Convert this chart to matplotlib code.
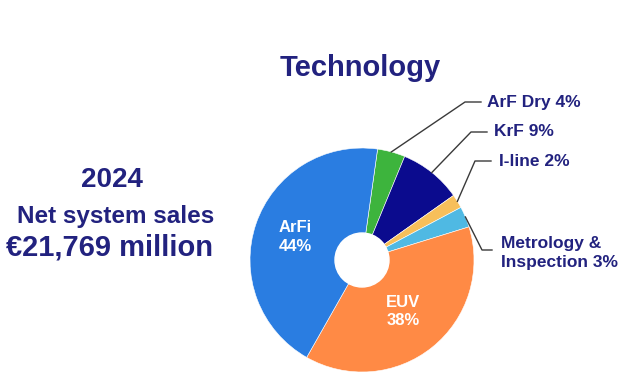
import numpy as np
import matplotlib
matplotlib.use("Agg")
import matplotlib.pyplot as plt
from matplotlib.patches import Circle

plt.rcParams['font.family'] = ['Liberation Sans', 'DejaVu Sans']

# data, clockwise from just right of 12 o'clock
segments = ['ArF Dry', 'KrF', 'I-line', 'Metrology &\nInspection', 'EUV', 'ArFi']
shares = [4, 9, 2, 3, 38, 44]
colors = ['#3db43d', '#0b0b8e', '#f7bf5a', '#4fb9e3', '#ff8a45', '#2a7de1']
inside = {'EUV', 'ArFi'}

year = '2024'
subtitle = 'Net system sales'
total = '€21,769 million'
title = 'Technology'

navy = '#22227f'
W, H = 625, 388

fig = plt.figure(figsize=(W / 100, H / 100), dpi=100)
ax = fig.add_axes([0, 0, 1, 1])

cx, cy, r = 362, H - 260, 112
start = 82  # degrees, matplotlib convention
wedges, _ = ax.pie(shares, colors=colors, startangle=start, counterclock=False,
                   center=(cx, cy), radius=r, frame=True,
                   wedgeprops=dict(linewidth=0.4, edgecolor='white'))
ax.add_patch(Circle((cx, cy), 27, color='white', zorder=5))

# label layout in pixel coords (y down): elbow x, line end x, text x, text y
layout = {
    'ArF Dry': (465, 481, 487, 102),
    'KrF': (471, 487, 494, 132),
    'I-line': (475, 491, 499, 161),
    'Metrology &\nInspection': (482, 492, 501, 253),
}

for w, name, val in zip(wedges, segments, shares):
    mid = np.deg2rad((w.theta1 + w.theta2) / 2)
    if name in inside:
        rr = {'ArFi': 0.63, 'EUV': 0.59}[name]
        ax.text(cx + rr * r * np.cos(mid), cy + rr * r * np.sin(mid),
                f'{name}\n{val}%', color='white', fontsize=12, fontweight='bold',
                ha='center', va='center', linespacing=1.3, zorder=6)
        continue
    ex, lx, tx, ty = layout[name]
    px, py = cx + r * np.cos(mid), cy + r * np.sin(mid)
    ly = H - ty if name != 'Metrology &\nInspection' else H - 250
    ax.plot([px, ex, lx], [py, ly, ly], color='#3a3a3a', lw=1.0, zorder=4)
    ax.text(tx, H - ty, f'{name} {val}%', color=navy, fontsize=12.5,
            fontweight='bold', ha='left', va='center', linespacing=1.35)

ax.text(360, H - 68, title, color=navy, fontsize=21, fontweight='bold',
        ha='center', va='center')
ax.text(112, H - 180, year, color=navy, fontsize=20, fontweight='bold',
        ha='center', va='center')
ax.text(116, H - 216, subtitle, color=navy, fontsize=17.5, fontweight='bold',
        ha='center', va='center')
ax.text(110, H - 248, total, color=navy, fontsize=21, fontweight='bold',
        ha='center', va='center')

ax.set_xlim(0, W)
ax.set_ylim(0, H)
ax.set_aspect('equal')
ax.axis('off')

fig.savefig('out.png', dpi=100)
